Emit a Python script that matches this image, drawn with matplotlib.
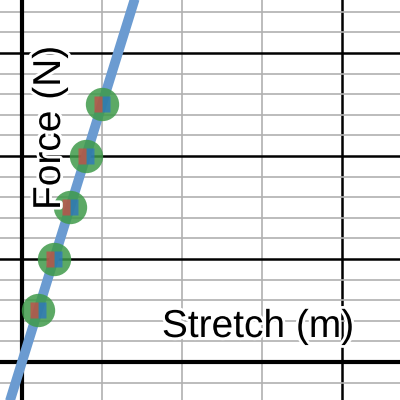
import numpy as np
import matplotlib.pyplot as plt
import matplotlib.patheffects as pe

stretch = [0.2, 0.4, 0.6, 0.8, 1.0]
force = [2.5, 5.0, 7.5, 10.0, 12.5]
slope = 12.5

fig = plt.figure(figsize=(4, 4), dpi=100)
ax = fig.add_axes([0, 0, 1, 1])
ax.set_xlim(-0.275, 4.725)
ax.set_ylim(-1.845, 17.57)
ax.axis('off')

for x in np.arange(1, 5):
    ax.axvline(x, color='black' if x % 4 == 0 else '#b0b0b0', lw=1.8 if x % 4 == 0 else 1.2, zorder=1)
for y in np.arange(-1, 18):
    if y == 0:
        continue
    major = y % 5 == 0
    ax.axhline(y, color='black' if major else '#b0b0b0', lw=1.8 if major else 1.2, zorder=1)
ax.axvline(0, color='black', lw=3, zorder=2)
ax.axhline(0, color='black', lw=3, zorder=2)

xs = np.array([-0.3, 1.6])
ax.plot(xs, slope * xs, color='#6b9bd1', lw=7, zorder=3, solid_capstyle='butt')

ax.plot(stretch, force, 'o', ms=24, color='#3f9a4a', alpha=0.85, mec='none', zorder=4)
ax.plot(stretch, force, 's', ms=12, color='#2d74c4', mfc='#2d74c4', mfcalt='#c94a4a',
        fillstyle='right', mec='none', alpha=0.75, zorder=5)

halo = [pe.withStroke(linewidth=4, foreground='white')]
ax.text(50 / 400, 1 - 128 / 400, 'Force (N)', transform=ax.transAxes, rotation=90,
        fontsize=28, family='Liberation Sans', ha='center', va='center',
        path_effects=halo, zorder=6)
ax.text(258 / 400, 1 - 327 / 400, 'Stretch (m)', transform=ax.transAxes,
        fontsize=28, family='Liberation Sans', ha='center', va='center',
        path_effects=halo, zorder=6)

fig.savefig('out.png', dpi=100)
